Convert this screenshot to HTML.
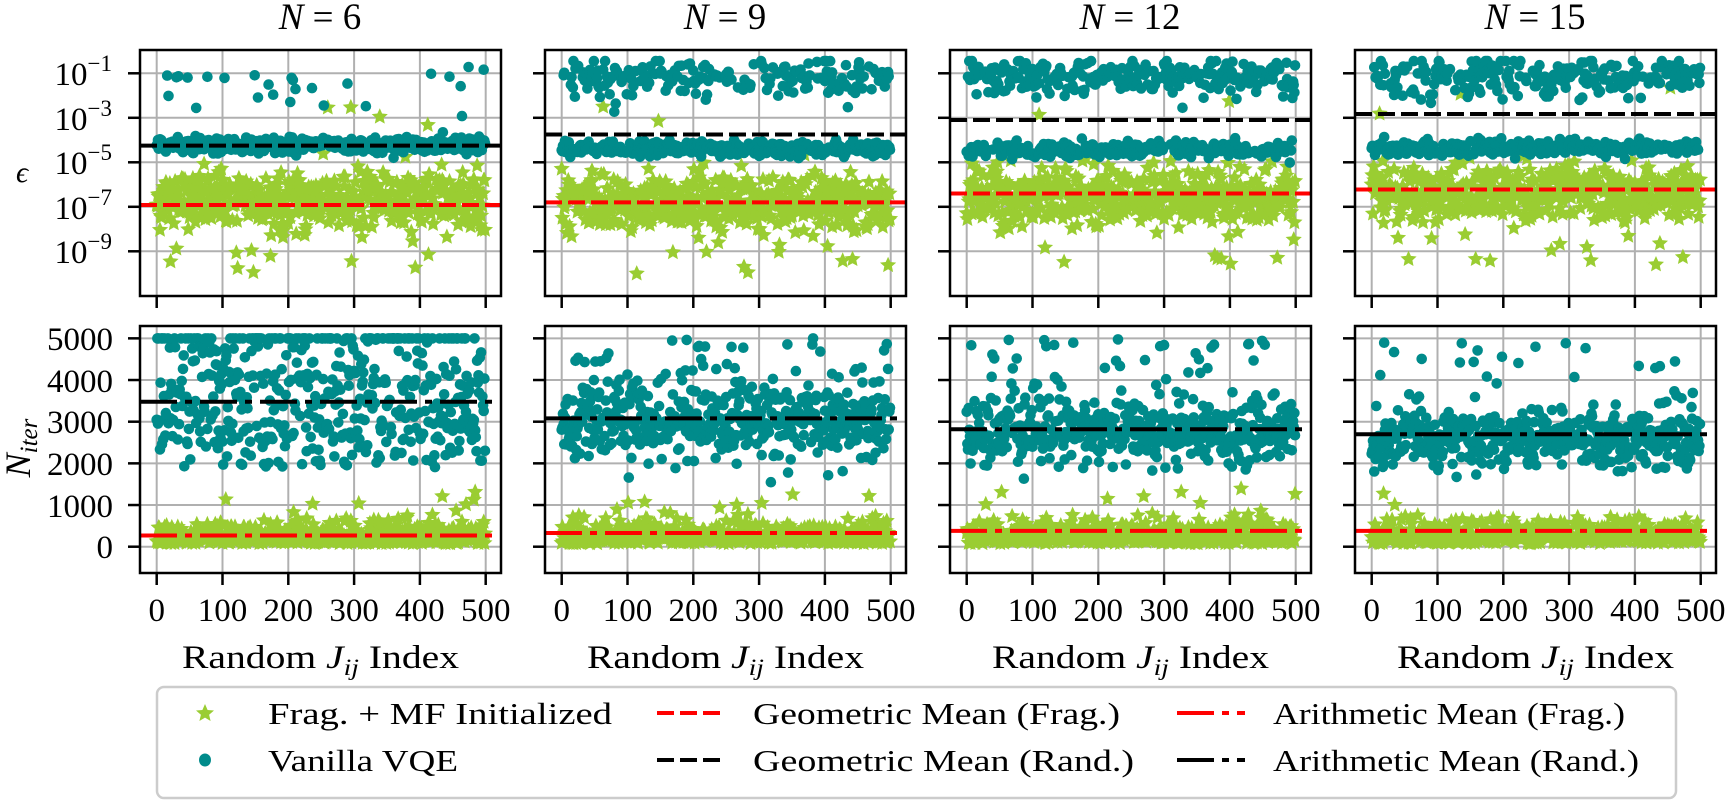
<!DOCTYPE html>
<html><head><meta charset="utf-8"><style>
html,body{margin:0;padding:0;background:#fff;}
svg{display:block;}
svg text{font-family:"Liberation Serif","DejaVu Serif",serif !important;fill:#000;}
.t{font-size:33px;}
.s{font-size:23px;}
.lg{font-size:31px;}
</style></head><body>
<svg id="fig" width="1725" height="801" viewBox="0 0 1725 801" xmlns="http://www.w3.org/2000/svg" font-family="Liberation Serif, serif">
<defs>
<clipPath id="c0"><rect x="140" y="50" width="361" height="246"/></clipPath>
<clipPath id="c1"><rect x="545" y="50" width="361" height="246"/></clipPath>
<clipPath id="c2"><rect x="950" y="50" width="361" height="246"/></clipPath>
<clipPath id="c3"><rect x="1355" y="50" width="361" height="246"/></clipPath>
<clipPath id="d0"><rect x="140" y="326" width="361" height="247"/></clipPath>
<clipPath id="d1"><rect x="545" y="326" width="361" height="247"/></clipPath>
<clipPath id="d2"><rect x="950" y="326" width="361" height="247"/></clipPath>
<clipPath id="d3"><rect x="1355" y="326" width="361" height="247"/></clipPath>
</defs>
<g id="grid"></g>
<g id="data"></g>
<g id="frames"></g>
<text x="320" y="29" font-size="37" text-anchor="middle"><tspan font-style="italic">N</tspan> = 6</text>
<text x="725" y="29" font-size="37" text-anchor="middle"><tspan font-style="italic">N</tspan> = 9</text>
<text x="1130" y="29" font-size="37" text-anchor="middle"><tspan font-style="italic">N</tspan> = 12</text>
<text x="1535" y="29" font-size="37" text-anchor="middle"><tspan font-style="italic">N</tspan> = 15</text>
<text class="t" x="112" y="85" text-anchor="end">10<tspan class="s" dy="-14">−1</tspan></text>
<text class="t" x="112" y="130" text-anchor="end">10<tspan class="s" dy="-14">−3</tspan></text>
<text class="t" x="112" y="174" text-anchor="end">10<tspan class="s" dy="-14">−5</tspan></text>
<text class="t" x="112" y="219" text-anchor="end">10<tspan class="s" dy="-14">−7</tspan></text>
<text class="t" x="112" y="263" text-anchor="end">10<tspan class="s" dy="-14">−9</tspan></text>
<text class="t" x="113" y="350" text-anchor="end">5000</text>
<text class="t" x="113" y="392" text-anchor="end">4000</text>
<text class="t" x="113" y="433" text-anchor="end">3000</text>
<text class="t" x="113" y="475" text-anchor="end">2000</text>
<text class="t" x="113" y="517" text-anchor="end">1000</text>
<text class="t" x="113" y="558" text-anchor="end">0</text>
<text x="22" y="182" font-size="30" font-style="italic" text-anchor="middle">ϵ</text>
<text transform="translate(30,448) rotate(-90)" font-size="36" text-anchor="middle"><tspan font-style="italic">N</tspan><tspan font-size="25" font-style="italic" dy="7">iter</tspan></text>
<g id="xt"></g>
<text x="182" y="668" font-size="33" textLength="277" lengthAdjust="spacingAndGlyphs">Random <tspan font-style="italic">J</tspan><tspan font-size="23" font-style="italic" dy="7">ij</tspan><tspan dy="-7"> Index</tspan></text>
<text x="587" y="668" font-size="33" textLength="277" lengthAdjust="spacingAndGlyphs">Random <tspan font-style="italic">J</tspan><tspan font-size="23" font-style="italic" dy="7">ij</tspan><tspan dy="-7"> Index</tspan></text>
<text x="992" y="668" font-size="33" textLength="277" lengthAdjust="spacingAndGlyphs">Random <tspan font-style="italic">J</tspan><tspan font-size="23" font-style="italic" dy="7">ij</tspan><tspan dy="-7"> Index</tspan></text>
<text x="1397" y="668" font-size="33" textLength="277" lengthAdjust="spacingAndGlyphs">Random <tspan font-style="italic">J</tspan><tspan font-size="23" font-style="italic" dy="7">ij</tspan><tspan dy="-7"> Index</tspan></text>
<rect x="157" y="687" width="1519" height="111" rx="7" fill="#fff" stroke="#cccccc" stroke-width="2.5"/>
<polygon points="205,704 207.6,710 214,710.5 209.1,714.7 210.6,721 205,717.6 199.4,721 200.9,714.7 196,710.5 202.4,710" fill="#9acd32"/>
<ellipse cx="205" cy="760" rx="6" ry="6.5" fill="#008b8b"/>
<text class="lg" x="268" y="724" textLength="344" lengthAdjust="spacingAndGlyphs">Frag. + MF Initialized</text>
<text class="lg" x="268" y="771" textLength="190" lengthAdjust="spacingAndGlyphs">Vanilla VQE</text>
<line x1="657" y1="713" x2="726" y2="713" stroke="#ff0000" stroke-width="4" stroke-dasharray="17,6"/>
<line x1="657" y1="760" x2="726" y2="760" stroke="#000" stroke-width="4" stroke-dasharray="17,6"/>
<text class="lg" x="753" y="724" textLength="367" lengthAdjust="spacingAndGlyphs">Geometric Mean (Frag.)</text>
<text class="lg" x="753" y="771" textLength="381" lengthAdjust="spacingAndGlyphs">Geometric Mean (Rand.)</text>
<line x1="1177" y1="713" x2="1245" y2="713" stroke="#ff0000" stroke-width="4" stroke-dasharray="37,8,7,8"/>
<line x1="1177" y1="760" x2="1245" y2="760" stroke="#000" stroke-width="4" stroke-dasharray="37,8,7,8"/>
<text class="lg" x="1273" y="724" textLength="352" lengthAdjust="spacingAndGlyphs">Arithmetic Mean (Frag.)</text>
<text class="lg" x="1273" y="771" textLength="366" lengthAdjust="spacingAndGlyphs">Arithmetic Mean (Rand.)</text>
</svg>
<script>
(function(){
var NS="http://www.w3.org/2000/svg";
function el(t,a,p){var e=document.createElementNS(NS,t);for(var k in a)e.setAttribute(k,a[k]);p.appendChild(e);return e;}
var s=12345;function r(){s=(s*1103515245+12345)%2147483648;return s/2147483648;}
function n(){var u=r()||1e-9,v=r();return Math.sqrt(-2*Math.log(u))*Math.cos(2*Math.PI*v);}
var lefts=[140,545,950,1355],W=361;
var grid=document.getElementById('grid'),data=document.getElementById('data'),fr=document.getElementById('frames'),xt=document.getElementById('xt');
function xp(L,i){return L+16.7+i*0.658;}
function yl(v){return 73.3-(v+1)*22.25;}
function yn(v){return 546.7-v*0.04167;}
var topP=[
 {tm:-4.25,up:0.02,gm:-6.7,gsd:0.65,bl:-4.25,rd:-6.92},
 {tm:-4.4,up:0.38,gm:-6.8,gsd:0.6,bl:-3.75,rd:-6.8},
 {tm:-4.45,up:0.5,gm:-6.5,gsd:0.65,bl:-3.1,rd:-6.4},
 {tm:-4.35,up:0.47,gm:-6.4,gsd:0.65,bl:-2.83,rd:-6.22}];
var botP=[
 {mode:0,bl:3480,rd:270},
 {m:3000,sd:480,tail:0.07,bl:3080,rd:330},
 {m:2750,sd:400,tail:0.06,bl:2820,rd:380},
 {m:2600,sd:340,tail:0.05,bl:2700,rd:380}];
function star(g,x,y){var p=[];for(var k=0;k<10;k++){var a=-Math.PI/2+k*Math.PI/5,R=k%2?4:8.5;p.push((x+R*Math.cos(a)).toFixed(1)+','+(y+R*Math.sin(a)).toFixed(1));}el('polygon',{points:p.join(' '),fill:'#9acd32'},g);}
for(var p=0;p<4;p++){
 var L=lefts[p];
 for(var i=0;i<=500;i+=100){var x=xp(L,i);el('line',{x1:x,y1:50,x2:x,y2:296,stroke:'#b0b0b0','stroke-width':2},grid);el('line',{x1:x,y1:326,x2:x,y2:573,stroke:'#b0b0b0','stroke-width':2},grid);
  el('line',{x1:x,y1:296,x2:x,y2:308,stroke:'#000','stroke-width':2.5},fr);el('line',{x1:x,y1:573,x2:x,y2:585,stroke:'#000','stroke-width':2.5},fr);
  var t=el('text',{x:x,y:621,'text-anchor':'middle','class':'t'},xt);t.textContent=String(i);}
 for(var e=-1;e>=-9;e-=2){var y=yl(e);el('line',{x1:L,y1:y,x2:L+W,y2:y,stroke:'#b0b0b0','stroke-width':2},grid);el('line',{x1:L-12,y1:y,x2:L,y2:y,stroke:'#000','stroke-width':2.5},fr);}
 for(var v=0;v<=5000;v+=1000){var y=yn(v);el('line',{x1:L,y1:y,x2:L+W,y2:y,stroke:'#b0b0b0','stroke-width':2},grid);el('line',{x1:L-12,y1:y,x2:L,y2:y,stroke:'#000','stroke-width':2.5},fr);}
 el('rect',{x:L,y:50,width:W,height:246,fill:'none',stroke:'#000','stroke-width':2.5},fr);
 el('rect',{x:L,y:326,width:W,height:247,fill:'none',stroke:'#000','stroke-width':2.5},fr);
 var P=topP[p],B=botP[p];
 var g1=el('g',{'clip-path':'url(#c'+p+')'},data),g2=el('g',{'clip-path':'url(#d'+p+')'},data);
 for(var i=0;i<500;i++){var v=P.gm+n()*P.gsd;if(r()<0.015)v=P.gm-1.8-r()*1.5;if(r()<0.004)v=-1.5-r()*2;v=Math.max(-10.6,Math.min(-0.8,v));star(g1,xp(L,i),yl(v));}
 for(var i=0;i<500;i++){var v;if(r()<P.up){v=-1.2+n()*0.45;v=Math.min(v,-0.45);}else{v=P.tm+n()*0.17;}if(p==0&&r()<0.02)v=-1-r()*2.2;el('circle',{cx:xp(L,i).toFixed(1),cy:yl(v).toFixed(1),r:5.3,fill:'#008b8b'},g1);}
 el('line',{x1:L,y1:yl(P.bl),x2:L+W,y2:yl(P.bl),stroke:'#000','stroke-width':4,'stroke-dasharray':'17,6'},g1);
 el('line',{x1:L,y1:yl(P.rd),x2:L+W,y2:yl(P.rd),stroke:'#ff0000','stroke-width':4,'stroke-dasharray':'17,6'},g1);
 for(var i=0;i<500;i++){var v=80+Math.abs(n())*(p==0?230:260);if(r()<0.015)v=900+r()*500;v=Math.min(v,1700);star(g2,xp(L,i),yn(v));}
 for(var i=0;i<500;i++){var v;if(B.mode===0){if(r()<0.17)v=5000;else{v=1900+r()*3100;if(r()<0.3)v=2500+r()*1700;}}else{v=B.m+n()*B.sd;if(r()<B.tail)v=B.m+600+r()*(5000-B.m-600);v=Math.max(1400,Math.min(5000,v));}
  el('circle',{cx:xp(L,i).toFixed(1),cy:yn(v).toFixed(1),r:5.3,fill:'#008b8b'},g2);}
 el('line',{x1:L,y1:yn(B.bl),x2:L+W,y2:yn(B.bl),stroke:'#000','stroke-width':4,'stroke-dasharray':'37,8,7,8'},g2);
 el('line',{x1:L,y1:yn(B.rd),x2:L+W,y2:yn(B.rd),stroke:'#ff0000','stroke-width':4,'stroke-dasharray':'37,8,7,8'},g2);
}
})();
</script>
</body></html>
